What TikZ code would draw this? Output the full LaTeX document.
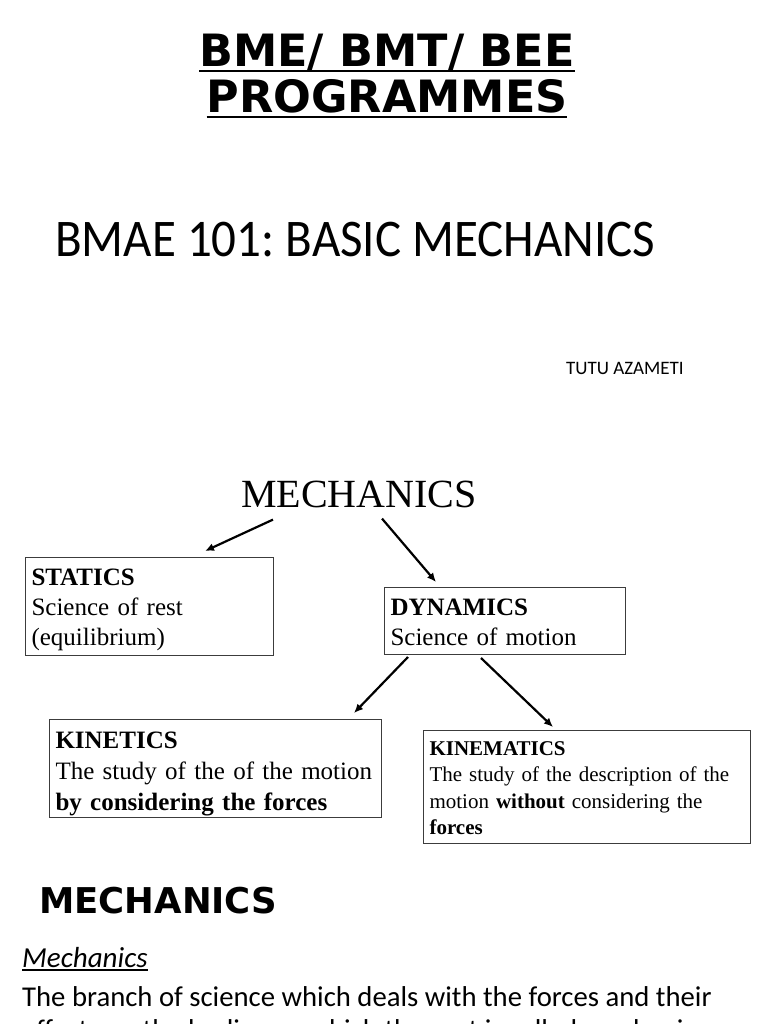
\documentclass[tikz,border=0pt]{standalone}
\usepackage{fontspec}
\setmainfont{Carlito}
\newfontfamily\slideheadfont{DejaVu Sans}
\newfontfamily\diagramfont{Liberation Serif}
\usepackage{tikz}
\usetikzlibrary{arrows.meta,calc}
\definecolor{slInk}{HTML}{000000}
\definecolor{slRule}{HTML}{3C3C3C}
\frenchspacing
% underline drawn as a rule under the text: depth, thickness, text
\newcommand\slideunder[3]{\setbox0\hbox{#3}\leavevmode\rlap{\rule[-#1]{\wd0}{#2}}\box0}
\tikzset{
  slide title/.style={font=\slideheadfont\bfseries\fontsize{44.5}{47}\selectfont,inner sep=0pt,anchor=base},
  slide text/.style={inner sep=0pt,anchor=base west,text=slInk},
  diagram box/.style={draw=slRule,line width=1pt,anchor=north west,inner xsep=6pt,inner ysep=0pt,
    align=left,font=\diagramfont\fontsize{25}{30}\selectfont},
  small box/.style={diagram box,font=\diagramfont\fontsize{21}{26.3}\selectfont},
  % first baseline below the top edge, last baseline above the bottom edge
  box struts/.style 2 args={execute at begin node={\rule{0pt}{#1}},execute at end node={\rule[-#2]{0pt}{#2}}},
  diagram arrow/.style={-{Latex[length=9pt,width=8pt]},line width=2.2pt,draw=slInk}
}

\begin{document}
\begin{tikzpicture}[x=1pt,y=-1pt]
\useasboundingbox (0,0) rectangle (768,1024);
\clip (0,0) rectangle (768,1024);
\node[slide title] (title1) at (387,67) {\slideunder{5pt}{2.2pt}{BME/ BMT/ BEE}};
\node[slide title] (title2) at (387,113) {\slideunder{5pt}{2.2pt}{PROGRAMMES}};
\node[slide text,font=\fontsize{49}{52}\selectfont] (course) at (55,256) {\scalebox{1}[1.08]{BMAE 101: BASIC MECHANICS}};
\node[slide text,font=\fontsize{19}{22}\selectfont] (author) at (566,374) {TUTU AZAMETI};

% tree of the branches
\node[inner sep=0pt,anchor=base,font=\diagramfont\fontsize{40}{44}\selectfont] (mech) at (359,507) {MECHANICS};
\node[diagram box,text width=236pt,box struts={28pt}{10pt}] (statics) at (25,557)
  {\textbf{STATICS}\\Science of rest\\(equilibrium)};
\node[diagram box,text width=229pt,box struts={28pt}{9pt}] (dynamics) at (384,587)
  {\textbf{DYNAMICS}\\Science of motion};
\node[diagram box,font=\diagramfont\fontsize{25}{31}\selectfont,text width=320pt,box struts={29pt}{7pt}] (kinetics) at (49,719)
  {\textbf{KINETICS}\\The study of the of the motion\\\textbf{by considering the forces}};
\node[small box,text width=315pt,box struts={25pt}{9pt}] (kinematics) at (423,730)
  {\textbf{KINEMATICS}\\The study of the description of the\\motion \textbf{without} considering the\\\textbf{forces}};
\draw[diagram arrow] ($(mech.south)+(-86,12)$) -- ($(statics.north west)+(180,-6)$);
\draw[diagram arrow] ($(mech.south)+(23,11)$) -- ($(dynamics.north west)+(52,-5)$);
\draw[diagram arrow] ($(dynamics.south west)+(24,2)$) -- ($(kinetics.north east)+(-28,-6)$);
\draw[diagram arrow] ($(dynamics.south west)+(97,3)$) -- ($(kinematics.north west)+(130,-3)$);

\node[slide text,font=\slideheadfont\bfseries\fontsize{35.5}{40}\selectfont] (head) at (39,913) {MECHANICS};
\node[slide text,font=\itshape\fontsize{29}{32}\selectfont] (term) at (22,967) {\slideunder{3.5pt}{1.4pt}{Mechanics}};
\node[slide text,font=\fontsize{28.7}{32}\selectfont] (body1) at (22,1006) {The branch of science which deals with the forces and their};
\node[slide text,font=\fontsize{28.7}{32}\selectfont] (body2) at (22,1039) {effects on the bodies on which they act is called mechanics.};
\end{tikzpicture}
\end{document}
